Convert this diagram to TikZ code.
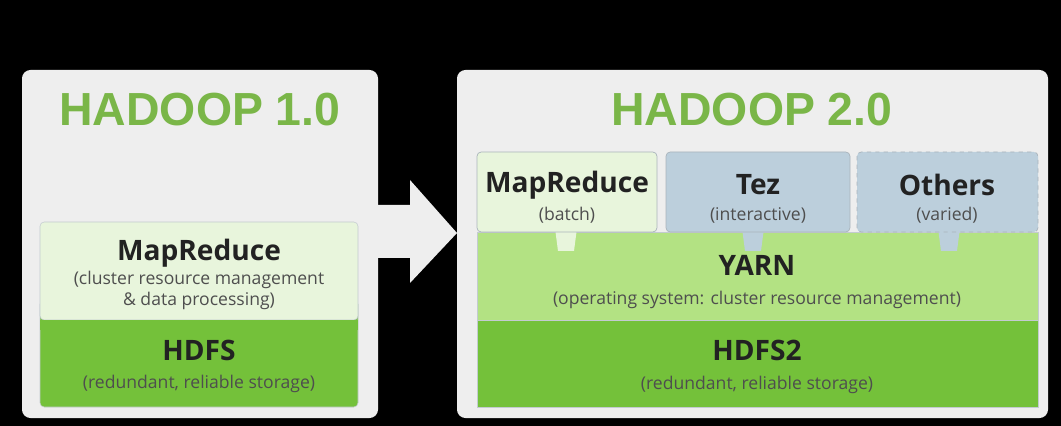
\documentclass[tikz,border=0pt]{standalone}
\usepackage{fontspec}
\setmainfont{Open Sans}
\newfontfamily\titlefont{Liberation Sans}
\usetikzlibrary{positioning}
\definecolor{panelgray}{HTML}{EEEEEE}
\definecolor{titlegreen}{HTML}{7AB648}
\definecolor{paleleaf}{HTML}{E8F5DC}
\definecolor{yarngreen}{HTML}{B3E283}
\definecolor{hdfsgreen}{HTML}{74C13A}
\definecolor{tezblue}{HTML}{BCCFDC}
\definecolor{edgegray}{HTML}{AAB4BC}
\definecolor{textdark}{HTML}{222222}
\tikzset{
  panel/.style={fill=panelgray, rounded corners=6pt},
  layer/.style={draw=edgegray!70, line width=0.4pt},
  engine/.style={draw=edgegray, rounded corners=3pt, line width=0.5pt},
  bigtitle/.style={font=\titlefont\bfseries\fontsize{33}{38}\selectfont, text=titlegreen},
  head/.style={font=\bfseries\fontsize{20}{22}\selectfont, text=textdark},
  sub/.style={font=\fontsize{12.5}{15}\selectfont, text=textdark!80, align=center}
}
\begin{document}
\begin{tikzpicture}[x=0.025cm, y=-0.025cm]
    % Background
    \fill[black] (0,0) rectangle (1061,426);
    \useasboundingbox (0,0) rectangle (1061,426);

    % === Hadoop 1.0 ===
    \fill[panel] (22,70) rectangle (378,418);
    \node[bigtitle] (t1) at (200,110) {HADOOP 1.0};
    \fill[hdfsgreen, layer, rounded corners=3pt] (40,300) rectangle (358,407);
    \fill[paleleaf, layer, rounded corners=3pt] (40,222) rectangle (358,320);
    \node[head] (mr1) at (199,253) {MapReduce};
    \node[sub] (mr1s) at (199,290) {(cluster resource management\\\& data processing)};
    \fill[hdfsgreen] (40.2,320.2) rectangle (357.8,330);
    \node[head] (hdfs1) at (199,350) {HDFS};
    \node[sub] (hdfs1s) at (199,384) {(redundant, reliable storage)};

    % Arrow
    \fill[panelgray] (370,205) -- (410,205) -- (410,180) -- (457,233) -- (410,283) -- (410,258) -- (370,258) -- cycle;

    % === Hadoop 2.0 ===
    \fill[panel] (457,70) rectangle (1048,418);
    \node[bigtitle] (t2) at (752,110) {HADOOP 2.0};
    \fill[yarngreen, layer] (477,232) rectangle (1038,320);
    \node[head] (yarn) at (757,265) {YARN};
    \node[sub] (yarns) at (757,300) {(operating system: cluster resource management)};
    \fill[hdfsgreen, layer] (477,320) rectangle (1038,407);
    \node[head] (hdfs2) at (757,350) {HDFS2};
    \node[sub] (hdfs2s) at (757,385) {(redundant, reliable storage)};

    % Engines with tabs
    \fill[paleleaf] (555,228) -- (558,251) -- (574,251) -- (577,228) -- cycle;
    \filldraw[paleleaf, engine] (477,152) rectangle (657,232);
    \fill[tezblue] (742,228) -- (745,251) -- (761,251) -- (764,228) -- cycle;
    \filldraw[tezblue, engine] (666,152) rectangle (850,232);
    \fill[tezblue] (938,228) -- (941,251) -- (957,251) -- (960,228) -- cycle;
    \filldraw[tezblue, engine, dashed] (857,152) rectangle (1038,232);
    \node[head] (mr2) at (567,185) {MapReduce};
    \node[sub] (mr2s) at (567,215) {(batch)};
    \node[head] (tez) at (758,185) {Tez};
    \node[sub] (tezs) at (758,215) {(interactive)};
    \node[head] (oth) at (947,185) {Others};
    \node[sub] (oths) at (947,215) {(varied)};
\end{tikzpicture}
\end{document}
